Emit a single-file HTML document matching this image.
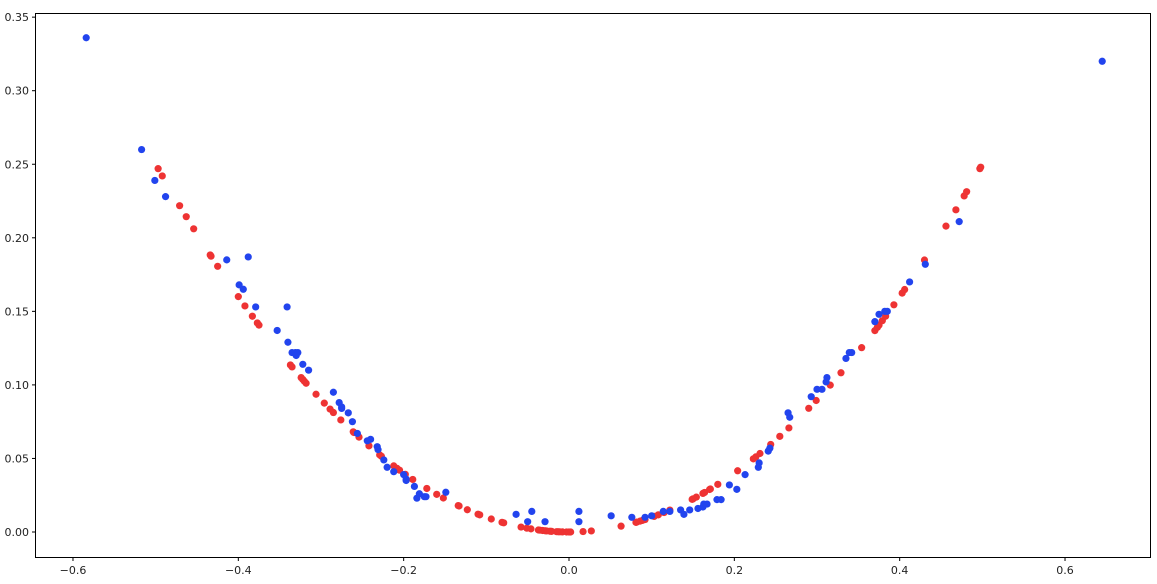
<!DOCTYPE html>
<html><head><meta charset="utf-8"><style>
body{margin:0;background:#fff;}
svg text{font-family:"DejaVu Sans","Liberation Sans",sans-serif;font-size:11px;fill:#222;}
</style></head><body>
<svg id="chart" width="1157" height="579" xmlns="http://www.w3.org/2000/svg">
<rect x="35.5" y="13.5" width="1115" height="544" fill="none" stroke="#000" stroke-width="1"/>
<g id="xt"></g><g id="yt"></g><g id="pts"></g>
</svg>
<script>
const xTicks=[-0.6,-0.4,-0.2,0.0,0.2,0.4,0.6];
const xTickLabels=["−0.6","−0.4","−0.2","0.0","0.2","0.4","0.6"];
const yTicks=[0,0.05,0.1,0.15,0.2,0.25,0.3,0.35];
const yTickLabels=["0.00","0.05","0.10","0.15","0.20","0.25","0.30","0.35"];
const redX=[-0.497,-0.492,-0.471,-0.463,-0.454,-0.434,-0.433,-0.425,-0.4,-0.392,-0.383,-0.377,-0.375,-0.337,-0.335,-0.324,-0.322,-0.320,-0.318,-0.306,-0.296,-0.289,-0.285,-0.276,-0.261,-0.260,-0.254,-0.242,-0.229,-0.227,-0.212,-0.208,-0.205,-0.198,-0.189,-0.172,-0.16,-0.152,-0.134,-0.133,-0.123,-0.110,-0.108,-0.094,-0.081,-0.079,-0.058,-0.051,-0.046,-0.037,-0.035,-0.032,-0.029,-0.027,-0.023,-0.021,-0.015,-0.013,-0.011,-0.008,-0.003,0,0.002,0.017,0.027,
0.063,0.081,0.082,0.086,0.089,0.092,0.103,0.108,0.115,0.122,0.149,0.150,0.154,0.162,0.164,0.170,0.171,0.180,0.204,0.223,0.226,0.231,0.244,0.255,0.266,0.290,0.299,0.316,0.329,0.354,0.370,0.373,0.375,0.379,0.383,0.393,0.403,0.406,0.430,0.456,0.468,0.478,0.481,0.497,0.498];
const redY=redX.map(v=>v*v);
const blueX=[-0.584,-0.517,-0.501,-0.488,-0.414,-0.388,-0.399,-0.394,-0.379,-0.341,-0.353,-0.340,-0.335,-0.331,-0.328,-0.330,-0.322,-0.315,-0.285,-0.278,-0.275,-0.275,-0.267,-0.262,-0.256,-0.244,-0.240,-0.232,-0.231,-0.224,-0.220,-0.212,-0.200,-0.197,-0.197,-0.187,-0.181,-0.184,-0.175,-0.173,-0.149,-0.064,-0.050,-0.045,-0.029,0.012,0.012,0.051,0.076,0.092,0.100,0.114,0.122,0.135,0.139,0.146,0.156,0.162,0.163,0.167,0.179,0.184,0.194,0.203,0.213,0.229,0.230,0.241,0.243,0.265,0.267,0.293,0.300,0.306,0.311,0.312,0.335,0.339,0.342,0.370,0.375,0.382,0.385,0.412,0.431,0.472,0.645];
const blueY=[0.336,0.260,0.239,0.228,0.185,0.187,0.168,0.165,0.153,0.153,0.137,0.129,0.122,0.122,0.122,0.120,0.114,0.110,0.095,0.088,0.085,0.084,0.081,0.075,0.067,0.062,0.063,0.058,0.056,0.049,0.044,0.041,0.039,0.036,0.035,0.031,0.026,0.023,0.024,0.024,0.027,0.012,0.007,0.014,0.007,0.014,0.007,0.011,0.010,0.010,0.011,0.014,0.014,0.015,0.012,0.015,0.016,0.017,0.019,0.019,0.022,0.022,0.032,0.029,0.039,0.044,0.047,0.055,0.057,0.081,0.078,0.092,0.097,0.097,0.102,0.105,0.118,0.122,0.122,0.143,0.148,0.150,0.150,0.170,0.182,0.211,0.320];
const NS="http://www.w3.org/2000/svg";
const sx=v=>569+v*826.7, sy=v=>532-v*1471;
function mk(t,a,p){const e=document.createElementNS(NS,t);for(const k in a)e.setAttribute(k,a[k]);p.appendChild(e);return e;}
const xt=document.getElementById('xt'),yt=document.getElementById('yt'),pts=document.getElementById('pts');
xTicks.forEach((v,i)=>{const x=sx(v);
 const l=mk('line',{x1:x,x2:x,y1:557.5,y2:561,stroke:'#000'},xt);
 
 
 const t=mk('text',{x:x,y:574,'text-anchor':'middle'},xt);t.textContent=xTickLabels[i];
 
 });
yTicks.forEach((v,i)=>{const y=sy(v);
 const l=mk('line',{x1:32,x2:35.5,y1:y,y2:y,stroke:'#000'},yt);
 
 
 const t=mk('text',{x:29,y:y+4,'text-anchor':'end'},yt);t.textContent=yTickLabels[i];
 
 });
redX.forEach((v,i)=>{const c=mk('circle',{cx:sx(v),cy:sy(redY[i]),r:3.6,fill:'#ee3333'},pts);
 
 });
blueX.forEach((v,i)=>{const c=mk('circle',{cx:sx(v),cy:sy(blueY[i]),r:3.6,fill:'#2244ee'},pts);
 
 });
</script>
</body></html>
